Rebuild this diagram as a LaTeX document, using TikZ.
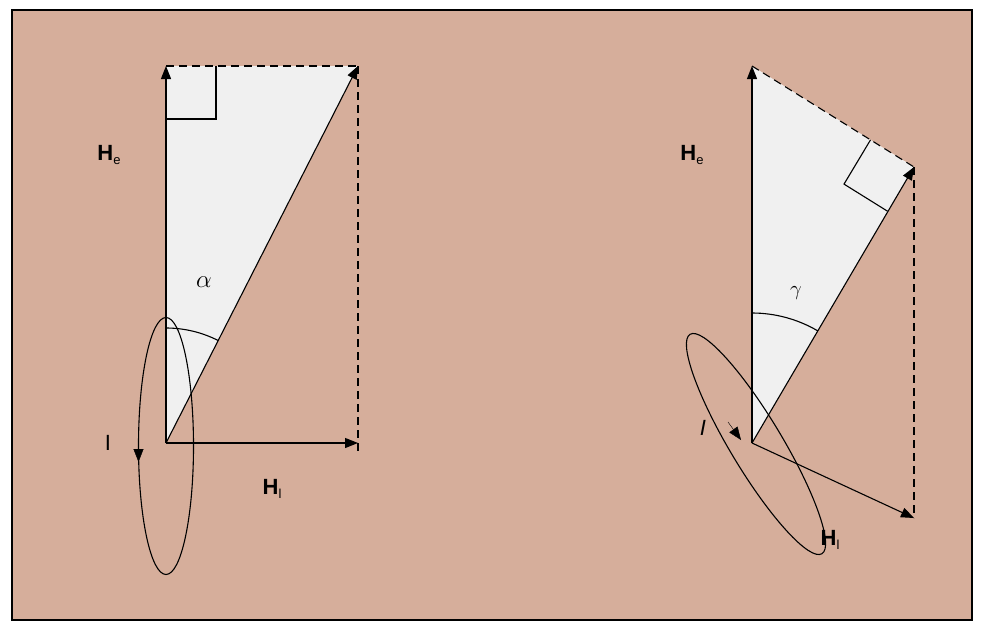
\documentclass[tikz,border=0pt]{standalone}
\usepackage{fontspec}
\setmainfont{Liberation Sans}
\usetikzlibrary{arrows.meta,shapes.geometric}
\definecolor{bg}{RGB}{214,174,155}
\definecolor{tri}{RGB}{240,240,240}
\tikzset{vec/.style={line width=1.1pt,-{Triangle[length=13pt,width=10pt]}},
 dsh/.style={line width=1.1pt,dash pattern=on 8pt off 5pt},
 ln/.style={line width=1.1pt},
 lab/.style={font=\fontsize{22}{26}\selectfont}}
\begin{document}
\begin{tikzpicture}[x=1pt,y=-1pt]
\useasboundingbox (0,0) rectangle (982,624);
\draw[line width=1.3pt,fill=bg] (12,10) rectangle (972,620);
% left
\coordinate (O1) at (166,443); \coordinate (A1) at (166,66); \coordinate (B1) at (358,66);
\coordinate (C1) at (358,443); \coordinate (D1) at (358,453);
\fill[tri] (O1)--(A1)--(B1)--cycle;
\draw[ln] (166,119)--(216,119)--(216,66);
\draw[dsh] (A1)--(B1); \draw[dsh] (B1)--(D1);
\draw[vec] (O1)--(A1); \draw[vec] (O1)--(B1); \draw[vec] (O1)--(C1);
\draw[ln] (166,328) arc[start angle=-90,end angle=-62.9,radius=115];
\node[font=\fontsize{24}{28}\selectfont] (alpha1) at (204,282) {$\alpha$};
\node[draw,ln,ellipse,minimum width=55,minimum height=257,inner sep=0] (E1) at (166,446) {};
\draw[-{Triangle[length=13pt,width=10pt]}] (138.5,440)--(138.5,462);
\node[lab] (I1) at (108,443) {I};
\node[lab] (He1) at (109,155) {\textbf{H}\fontsize{13}{14}\selectfont\raisebox{-4pt}{e}};
\node[lab] (Hl1) at (272,489) {\textbf{H}\fontsize{13}{14}\selectfont\raisebox{-4pt}{l}};
% right
\coordinate (O2) at (752,443); \coordinate (A2) at (752,66); \coordinate (B2) at (914,167);
\coordinate (C2) at (914,518);
\fill[tri] (O2)--(A2)--(B2)--cycle;
\coordinate (p) at (870.5,139.9);
\coordinate (q) at (844,184.1);
\coordinate (r) at (887.5,211.2);
\draw[ln] (p)--(q)--(r);
\draw[dsh] (A2)--(B2); \draw[dsh] (B2)--(C2);
\draw[vec] (O2)--(A2); \draw[vec] (O2)--(B2); \draw[vec] (O2)--(C2);
\draw[ln] (752,313) arc[start angle=-90,end angle=-59.6,radius=130];
\node[font=\fontsize{22}{26}\selectfont] (gamma1) at (796,293) {$\gamma$};
\begin{scope}[shift={(756,444)},rotate=-59]
\draw[ln] (0,0) ellipse[x radius=128,y radius=26];
\end{scope}
\draw[-{Triangle[length=13pt,width=10pt]}] (728,422)--(741,440);
\node[lab] (I2) at (703,428) {\textit{I}};
\node[lab] (He2) at (692,155) {\textbf{H}\fontsize{13}{14}\selectfont\raisebox{-4pt}{e}};
\node[lab] (Hl2) at (830,540) {\textbf{H}\fontsize{13}{14}\selectfont\raisebox{-4pt}{l}};
\end{tikzpicture}
\end{document}
